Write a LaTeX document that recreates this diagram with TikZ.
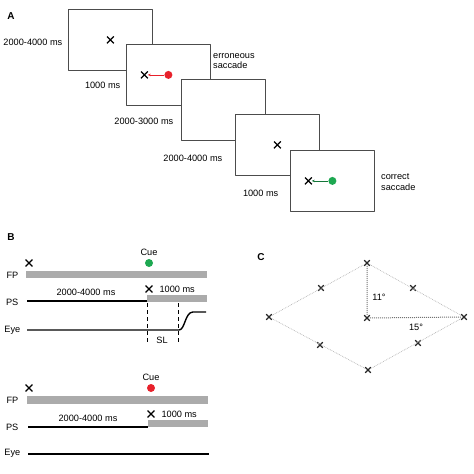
\documentclass[tikz,border=0pt]{standalone}
\usepackage{fontspec}
\setmainfont{Liberation Sans}
\usetikzlibrary{shapes.misc,arrows.meta}
\definecolor{cuered}{HTML}{E8212B}
\definecolor{cuegreen}{HTML}{1DA851}
\definecolor{bargray}{HTML}{ABABAB}
\begin{document}
\begin{tikzpicture}[x=1pt,y=-1pt,font=\fontsize{9.2}{10.5}\selectfont,line join=round,
  screen/.style={draw=black!70,fill=white,line width=0.8pt,minimum width=84pt,minimum height=61pt,inner sep=0pt,anchor=north west},
  fixx/.style={cross out,draw=black,line width=1.3pt,minimum size=5.5pt,inner sep=0pt},
  smallx/.style={cross out,draw=black!85,line width=1.1pt,minimum size=4.5pt,inner sep=0pt},
  tgt/.style={circle,inner sep=0pt,minimum size=8pt},
  bar/.style={fill=bargray,draw=none},
  trace/.style={line width=1.4pt},
  lbl/.style={anchor=east,inner sep=0.5pt},
  panel/.style={font=\fontsize{10}{12}\selectfont\bfseries}]
\useasboundingbox (0,0) rectangle (474,474);
% A: sequence of screens
\node[panel] (A) at (11,16) {A};
\foreach \i/\x/\y in {1/68/9,2/126/44,3/181/79,4/235/114,5/290/150}
  \node[screen] (s\i) at (\x,\y) {};
\node[fixx] (fx1) at (s1.center) {};
\node[fixx] (fx2) at ([xshift=-24pt]s2.center) {};
\node[tgt,fill=cuered] (dot2) at (s2.center) {};
\draw[cuered,line width=0.7pt,-{Stealth[length=3pt,width=2.5pt]}] (dot2) -- (fx2);
\node[fixx] (fx4) at (s4.center) {};
\node[fixx] (fx5) at ([xshift=-24pt]s5.center) {};
\node[tgt,fill=cuegreen] (dot5) at (s5.center) {};
\draw[cuegreen!70!black,line width=0.7pt,-{Stealth[length=3pt,width=2.5pt]}] (dot5) -- (fx5);
\node[lbl] (t1) at (63,42) {2000-4000 ms};
\node[lbl] (t2) at (121,85) {1000 ms};
\node[lbl] (t3) at (174,121) {2000-3000 ms};
\node[lbl] (t4) at (223,158) {2000-4000 ms};
\node[lbl] (t5) at (279,193) {1000 ms};
\node[anchor=west,align=left,inner sep=1pt] (err) at (212,61) {erroneous\\saccade};
\node[anchor=west,align=left,inner sep=1pt] (cor) at (380,182) {correct\\saccade};
% B: correct trial
\node[panel] (B) at (11,237) {B};
\node[fixx] (bx1) at (29,263) {};
\node[tgt,fill=cuegreen] (cue1) at (149,263) {};
\node[above=0pt] (cuet1) at (cue1.north) {Cue};
\fill[bar] (26,271) rectangle (207,278);
\node[lbl] (fp1) at (19,275) {FP};
\draw[trace] (27,301) -- (147,301);
\fill[bar] (147,295) rectangle (207,302);
\node[lbl] (ps1) at (19,302) {PS};
\node (d1) at (86,292) {2000-4000 ms};
\node[fixx] (bx2) at (149,289) {};
\node[anchor=west] (o1) at (156,289) {1000 ms};
\draw[trace] (27,330) -- (179,330) .. controls (185,330) and (185,312) .. (193,312) -- (206,312);
\node[lbl] (eye1) at (21,330) {Eye};
\draw[dash pattern=on 4pt off 3pt,line width=1pt] (147,303) -- (147,344) (178,303) -- (178,344);
\node (sl) at (162,340) {SL};
% B: erroneous trial
\node[fixx] (bx3) at (29,388) {};
\node[tgt,fill=cuered] (cue2) at (151,388) {};
\node[above=0pt] (cuet2) at (cue2.north) {Cue};
\fill[bar] (27,396) rectangle (208,404);
\node[lbl] (fp2) at (19,400) {FP};
\draw[trace] (28,427) -- (148,427);
\fill[bar] (148,420) rectangle (208,427);
\node[lbl] (ps2) at (19,427) {PS};
\node (d2) at (88,418) {2000-4000 ms};
\node[fixx] (bx4) at (151,414) {};
\node[anchor=west] (o2) at (158,414) {1000 ms};
\draw[trace] (28,454) -- (209,454);
\node[lbl] (eye2) at (21,453) {Eye};
% C: target positions
\node[panel] (C) at (261,257) {C};
\foreach \n/\x/\y in {top/367/263,ctr/367/318,lft/269/317,rgt/464/317,bot/368/370,ul/321/288,ur/413/288,ll/320/345,lr/418/343}
  \node[smallx] (\n) at (\x,\y) {};
\draw[black!30,densely dotted,line width=0.7pt] (top) -- (rgt) -- (bot) -- (lft) -- (top);
\draw[black!55,densely dotted,line width=1pt] (top) -- (ctr) -- (rgt);
\node (a11) at (379,297) {11°};
\node (a15) at (416,327) {15°};
\end{tikzpicture}
\end{document}
